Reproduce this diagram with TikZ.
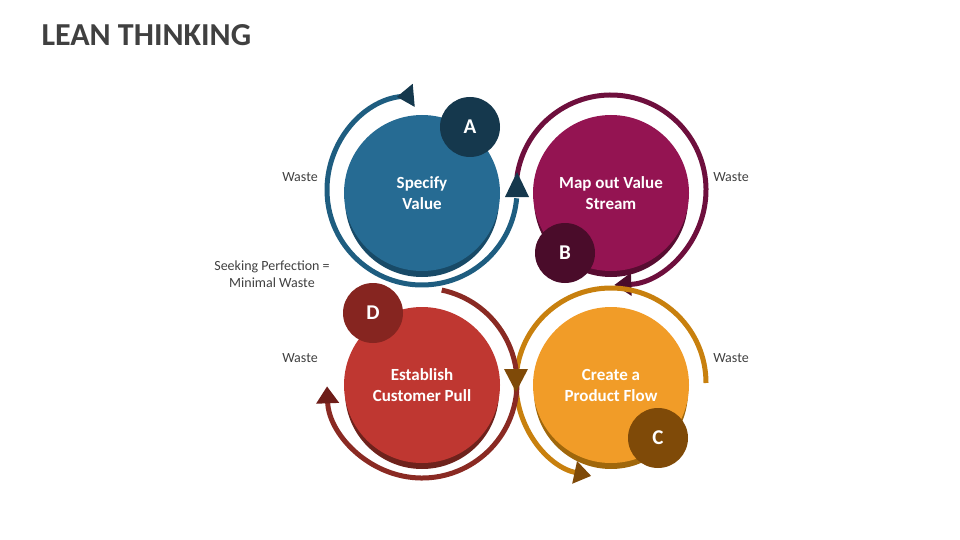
\documentclass[tikz,border=0pt]{standalone}
\usepackage{fontspec}
\setmainfont{Carlito}
\usetikzlibrary{arrows.meta}
\definecolor{cA}{HTML}{266B93}\definecolor{rA}{HTML}{1E5D80}\definecolor{bA}{HTML}{15384D}
\definecolor{cB}{HTML}{941452}\definecolor{rB}{HTML}{6E0F3D}\definecolor{bB}{HTML}{4A0C2A}
\definecolor{cC}{HTML}{F19C28}\definecolor{rC}{HTML}{C8800E}\definecolor{bC}{HTML}{7F4A08}
\definecolor{cD}{HTML}{BF3731}\definecolor{rD}{HTML}{8A2A23}\definecolor{bD}{HTML}{6E1D19}
\definecolor{txt}{HTML}{404040}
\tikzset{
  big/.style={circle,minimum size=156pt,inner sep=0pt,text=white,font=\bfseries\fontsize{17}{21}\selectfont,align=center},
  badge/.style={circle,minimum size=60pt,inner sep=0pt,text=white,font=\bfseries\fontsize{21}{24}\selectfont},
  ring/.style={line width=5pt},
  lbl/.style={text=txt,font=\fontsize{14}{17}\selectfont,align=center}
}
\begin{document}
\begin{tikzpicture}[x=1pt,y=-1pt]
\useasboundingbox (0,0) rectangle (960,540);
\node[anchor=west,text=txt,font=\bfseries\fontsize{32}{36}\selectfont] (title) at (38,35) {LEAN THINKING};
% rings
\coordinate (ra) at (422,190);\coordinate (rb) at (611,190);
\coordinate (rc) at (611,383);\coordinate (rd) at (422,383);
\draw[ring,rA,{Triangle[reversed,length=17pt,width=22pt,color=bA]}-] (ra) ++(-95:95) arc[start angle=-95,end angle=-355,radius=95];
\draw[ring,rB,-{Triangle[length=17pt,width=22pt,color=bB]}] (rb) ++(-172:95) arc[start angle=-172,end angle=88,radius=95];
\draw[ring,rC,-{Triangle[length=17pt,width=22pt,color=bC]}] (rc) ++(0:95) arc[start angle=0,end angle=-258,radius=95];
\draw[ring,rD,-{Triangle[length=17pt,width=22pt,color=bD]}] (rd) ++(-78:95) arc[start angle=-78,end angle=178,radius=95];
% shadows and circles
\foreach \p/\c in {{(422,200)}/rA,{(611,200)}/rB,{(611,392)}/rC,{(422,392)}/rD}{\fill[\c!80!black] \p circle (77);}
\node[big,fill=cA] (A) at (422,193) {Specify\\Value};
\node[big,fill=cB] (B) at (611,193) {Map out Value\\Stream};
\node[big,fill=cC] (C) at (611,385) {Create a\\Product Flow};
\node[big,fill=cD] (D) at (422,385) {Establish\\Customer Pull};
% mid arrowheads
\fill[bA] (505,197) -- (529,197) -- (517,172) -- cycle;
\fill[bC] (504,369) -- (528,369) -- (516,392) -- cycle;
% badges
\node[badge,fill=bA] (a) at (470,127) {A};
\node[badge,fill=bB] (b) at (565,253) {B};
\node[badge,fill=bC] (c) at (658,438) {C};
\node[badge,fill=bD!70!cD] (d) at (373,313) {D};
% labels
\node[lbl] (w1) at (300,177) {Waste};
\node[lbl] (w2) at (731,177) {Waste};
\node[lbl] (w3) at (300,358) {Waste};
\node[lbl] (w4) at (731,358) {Waste};
\node[lbl] (sp) at (272,274) {Seeking Perfection =\\Minimal Waste};
\end{tikzpicture}
\end{document}
